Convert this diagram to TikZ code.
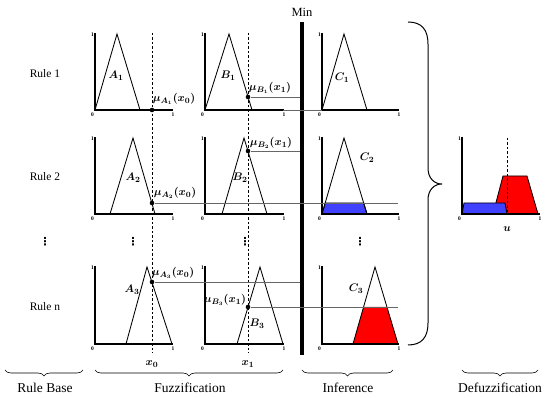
\documentclass[tikz,border=0pt]{standalone}
\usepackage{fontspec}
\setmainfont{Liberation Serif}
\newfontfamily\dejavu{DejaVu Sans}
\usetikzlibrary{decorations.pathreplacing}
\definecolor{mfblue}{RGB}{64,64,255}
\definecolor{mfred}{RGB}{255,0,0}
\tikzset{
  axisline/.style={line width=1.6pt, line cap=rect},
  tri/.style={line width=0.85pt, line join=miter},
  guide/.style={black!60, line width=0.6pt},
  dashv/.style={dash pattern=on 2.5pt off 2pt, line width=0.5pt},
  num/.style={font=\fontsize{5.5}{5.5}\selectfont\bfseries, inner sep=0pt},
  lab/.style={font=\fontsize{11}{12}\selectfont\boldmath, inner sep=0pt},
  rulelab/.style={font=\fontsize{11.5}{12}\selectfont, inner sep=0pt},
  catlab/.style={font=\fontsize{13.5}{14}\selectfont, inner sep=0pt},
  vdotlab/.style={font=\dejavu\fontsize{11}{12}\selectfont\bfseries, inner sep=0pt},
  bbrace/.style={decorate, decoration={brace, mirror, amplitude=6pt}, line width=0.6pt},
  ptdot/.style={fill=black, inner sep=0pt, minimum size=4.6pt, circle},
}
% #1 prefix, #2 x0, #3 ybase, #4 ytop, #5 xend
\newcommand\mfchart[5]{%
  \draw[axisline] (#2,#4) -- (#2,#3) -- (#5,#3);
  \node[num, anchor=north east] (#1one) at (#2-1,#4-1) {1};
  \node[num, anchor=north east] (#1zero) at (#2-1,#3+2.5) {0};
  \node[num, anchor=north] (#1end) at (#5+1,#3+2.5) {1};
}
\begin{document}
\begin{tikzpicture}[x=1pt,y=-1pt]
\useasboundingbox (0,0) rectangle (550,398);
\fill[white] (0,0) rectangle (550,398);

% ---------- labels on the left ----------
\node[rulelab] (r1) at (45,74) {Rule 1};
\node[rulelab] (r2) at (45,177) {Rule 2};
\node[rulelab] (rn) at (45,307) {Rule n};
\node[vdotlab] (d1) at (45,242) {⋮};
\node[vdotlab] (d2) at (133,242) {⋮};
\node[vdotlab] (d3) at (245,242) {⋮};
\node[vdotlab] (d4) at (360,242) {⋮};

% ---------- filled regions (behind) ----------
\fill[mfblue] (322,214) -- (325.2,203) -- (363.7,203) -- (367,214) -- cycle;
\draw[tri] (322,214) -- (325.2,203) -- (363.7,203) -- (367,214);
\fill[mfred] (353,344) -- (363.6,307) -- (386.9,307) -- (398,344) -- cycle;
\draw[tri] (363.6,307) -- (386.9,307);
\filldraw[tri, fill=mfred] (493,214) -- (503,176) -- (527,176) -- (538,214) -- cycle;
\filldraw[tri, fill=mfblue] (462,214) -- (464,203) -- (505,203) -- (507,214) -- cycle;

% ---------- dashed input lines ----------
\coordinate (x0top) at (152,33);
\coordinate (x0bot) at (152,353);
\coordinate (x1top) at (248,33);
\coordinate (x1bot) at (248,353);
\draw[dashv] (x0top) -- (x0bot);
\draw[dashv] (x1top) -- (x1bot);
\draw[dashv] (507,138) -- (507,214);

% ---------- triangles ----------
\draw[tri] (95,110) -- (117,34) -- (140,110);
\draw[tri] (205,110) -- (229,34) -- (252,110);
\draw[tri] (322,110) -- (344,34) -- (367,110);
\draw[tri] (110,214) -- (133,138) -- (155,214);
\draw[tri] (222,214) -- (244,138) -- (267,214);
\draw[tri] (322,214) -- (344,138) -- (367,214);
\draw[tri] (126,344) -- (147,267) -- (172,344);
\draw[tri] (237,344) -- (260,267) -- (283,344);
\draw[tri] (353,344) -- (375,267) -- (398,344);

% ---------- axes ----------
\mfchart{a1}{95}{110}{34}{172}
\mfchart{b1}{205}{110}{34}{283}
\mfchart{c1}{322}{110}{34}{398}
\mfchart{a2}{95}{214}{138}{172}
\mfchart{b2}{205}{214}{138}{283}
\mfchart{c2}{322}{214}{138}{398}
\mfchart{a3}{95}{344}{267}{172}
\mfchart{b3}{205}{344}{267}{283}
\mfchart{c3}{322}{344}{267}{398}
\mfchart{dz}{462}{214}{138}{539}

% ---------- Min line ----------
\coordinate (mintop) at (301.5,22);
\coordinate (minbot) at (301.5,355);
\draw[line width=4pt] (mintop) -- (minbot);
\node[font=\fontsize{12.5}{13}\selectfont, inner sep=0pt] (min) at (302,12) {Min};

% ---------- membership points ----------
\node[ptdot] (pa1) at (152,110) {};
\node[ptdot] (pb1) at (248,97) {};
\node[ptdot] (pa2) at (152,203) {};
\node[ptdot] (pb2) at (248,151) {};
\node[ptdot] (pa3) at (152,282) {};
\node[ptdot] (pb3) at (248,307) {};

\coordinate (e1) at (322,110);
\coordinate (s1) at (283,110);
\coordinate (mb1) at (300,97);
\coordinate (e2) at (398,203);
\coordinate (mb2) at (300,151);
\coordinate (ma3) at (300,282);
\coordinate (e3) at (398,307);
\draw[guide] (s1) -- (e1);
\draw[guide] (pb1) -- (mb1);
\draw[guide] (pa2) -- (e2);
\draw[guide] (pb2) -- (mb2);
\draw[guide] (pa3) -- (ma3);
\draw[guide] (pb3) -- (e3);

% ---------- set labels ----------
\node[lab] (la1) at (116,76) {$A_1$};
\node[lab] (lb1) at (228,76) {$B_1$};
\node[lab] (lc1) at (342,78) {$C_1$};
\node[lab] (la2) at (133,178) {$A_2$};
\node[lab] (lb2) at (240,178) {$B_2$};
\node[lab] (lc2) at (367,158) {$C_2$};
\node[lab] (la3) at (132,290) {$A_3$};
\node[lab] (lb3) at (257,324) {$B_3$};
\node[lab] (lc3) at (356,289) {$C_3$};

\node[lab] (ma1) at (174,99) {$\mu_{A_1}(x_0)$};
\node[lab] (mb1l) at (270,88) {$\mu_{B_1}(x_1)$};
\node[lab] (ma2) at (175,193) {$\mu_{A_2}(x_0)$};
\node[lab] (mb2l) at (271,143) {$\mu_{B_2}(x_1)$};
\node[lab] (ma3l) at (173,273) {$\mu_{A_3}(x_0)$};
\node[lab] (mb3l) at (225,300) {$\mu_{B_3}(x_1)$};

\node[lab] (lx0) at (152,364) {$x_0$};
\node[lab] (lx1) at (248,364) {$x_1$};
\node[lab] (lu) at (507,229) {$u$};

% ---------- big brace ----------
\draw[line width=1pt] (408,22) .. controls (422,22) and (428,30) .. (428,44)
  -- (428,168) .. controls (428,178) and (434,184) .. (442,184)
  .. controls (434,184) and (428,190) .. (428,200)
  -- (428,323) .. controls (428,337) and (422,345) .. (408,345);

% ---------- bottom braces ----------
\draw[bbrace] (5,370) -- (83,370);
\draw[bbrace] (95,370) -- (283,370);
\draw[bbrace] (302,370) -- (393,370);
\draw[bbrace] (462,370) -- (538,370);
\node[catlab] (rb) at (45,388) {Rule Base};
\node[catlab] (fz) at (190,388) {Fuzzification};
\node[catlab] (inf) at (348,388) {Inference};
\node[catlab] (df) at (500,388) {Defuzzification};
\end{tikzpicture}
\end{document}
